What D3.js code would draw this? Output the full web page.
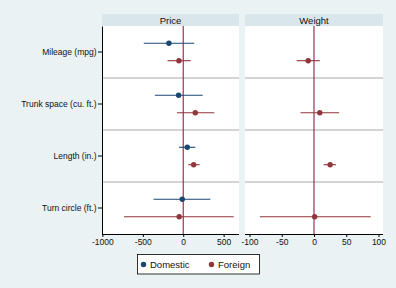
<!DOCTYPE html>
<html>
<head>
<meta charset="utf-8">
<script src="https://cdn.jsdelivr.net/npm/d3@7"></script>
<style>
  body { margin: 0; background: #eaf2f3; }
  svg { display: block; font-family: "Liberation Sans", Arial, sans-serif; }
</style>
</head>
<body>
<svg id="chart" width="396" height="288"></svg>
<script>
// data
var categories = ["Mileage (mpg)", "Trunk space (cu. ft.)", "Length (in.)", "Turn circle (ft.)"];
var groups = ["Domestic", "Foreign"];
var panelNames = ["Price", "Weight"];

var priceDomestic   = [-177, -57, 50, -12];
var priceDomesticLo = [-488, -351, -53, -367];
var priceDomesticHi = [136, 241, 149, 335];
var priceForeign    = [-53, 149, 129, -50];
var priceForeignLo  = [-194, -78, 62, -732];
var priceForeignHi  = [92, 385, 203, 625];

var weightDomestic   = [null, null, null, null];   // not shown in the weight panel
var weightDomesticLo = [null, null, null, null];
var weightDomesticHi = [null, null, null, null];
var weightForeign    = [-9, 9, 25, 1];
var weightForeignLo  = [-27, -21, 15, -84];
var weightForeignHi  = [9, 39, 34, 88];

var priceTicks = [-1000, -500, 0, 500];
var weightTicks = [-100, -50, 0, 50, 100];

var colors = {Domestic: "#1a476f", Foreign: "#90353b"};
var zeroColor = "#9b1b48";

function rows(est, lo, hi, group) {
  return categories.map(function(c, i) {
    return {cat: c, group: group, b: est[i], lo: lo[i], hi: hi[i]};
  }).filter(function(d) { return d.b != null; });
}

var panels = [
  { name: panelNames[0], domain: [-1005, 690], ticks: priceTicks, x0: 102, x1: 239,
    data: rows(priceDomestic, priceDomesticLo, priceDomesticHi, "Domestic")
      .concat(rows(priceForeign, priceForeignLo, priceForeignHi, "Foreign")) },
  { name: panelNames[1], domain: [-107, 107], ticks: weightTicks, x0: 245, x1: 383,
    data: rows(weightDomestic, weightDomesticLo, weightDomesticHi, "Domestic")
      .concat(rows(weightForeign, weightForeignLo, weightForeignHi, "Foreign")) }
];

var svg = d3.select("#chart");
var plotTop = 26, plotBottom = 234;

var y = d3.scaleBand().domain(categories).range([plotTop, plotBottom]);
var off = d3.scalePoint().domain(groups).range([-8.7, 8.7]);

panels.forEach(function(p, pi) {
  var x = d3.scaleLinear().domain(p.domain).range([p.x0, p.x1]);
  var g = svg.append("g");

  // strip header
  g.append("rect").attr("x", p.x0).attr("y", 14).attr("width", p.x1 - p.x0).attr("height", 12)
    .attr("fill", "#d9e6eb");
  g.append("text").attr("x", (p.x0 + p.x1) / 2).attr("y", 23.5)
    .attr("text-anchor", "middle").attr("font-size", 9.5).attr("fill", "#111")
    .text(p.name);

  // plot region
  g.append("rect").attr("x", p.x0).attr("y", plotTop).attr("width", p.x1 - p.x0).attr("height", plotBottom - plotTop)
    .attr("fill", "#fff");

  // separators between categories
  g.selectAll(".sep").data(categories.slice(1)).enter().append("line")
    .attr("x1", p.x0).attr("x2", p.x1)
    .attr("y1", function(d) { return y(d); }).attr("y2", function(d) { return y(d); })
    .attr("stroke", "#c6c6c6").attr("stroke-width", 1.5);

  // zero line
  g.append("line").attr("x1", x(0)).attr("x2", x(0)).attr("y1", plotTop).attr("y2", plotBottom)
    .attr("stroke", zeroColor).attr("stroke-width", 1.1);

  // x axis
  var xa = g.append("g").attr("transform", "translate(0," + plotBottom + ")")
    .call(d3.axisBottom(x).tickValues(p.ticks).tickFormat(function(d) { return String(d); })
      .tickSize(3).tickPadding(2).tickSizeOuter(0));
  xa.select(".domain").attr("stroke", "#000").attr("d", "M" + p.x0 + ",0.5H" + p.x1);
  xa.selectAll("text").attr("font-size", 8.5).attr("fill", "#111").attr("font-family", null);

  // y axis only on the first panel
  if (pi === 0) {
    var ya = g.append("g").attr("transform", "translate(" + p.x0 + ",0)")
      .call(d3.axisLeft(y).tickSize(4).tickPadding(1.5).tickSizeOuter(0));
    ya.select(".domain").attr("stroke", "#000");
    ya.selectAll("text").attr("font-size", 8.5).attr("fill", "#111").attr("font-family", null);
  }

  // CIs and points
  var cy = function(d) { return y(d.cat) + y.bandwidth() / 2 + off(d.group); };
  g.selectAll(".ci").data(p.data).enter().append("line")
    .attr("x1", function(d) { return x(d.lo); }).attr("x2", function(d) { return x(d.hi); })
    .attr("y1", cy).attr("y2", cy)
    .attr("stroke", function(d) { return colors[d.group]; }).attr("stroke-width", 1.1);
  g.selectAll(".pt").data(p.data).enter().append("circle")
    .attr("cx", function(d) { return x(d.b); }).attr("cy", cy).attr("r", 2.7)
    .attr("fill", function(d) { return colors[d.group]; });
});

// legend
var lg = svg.append("g");
lg.append("rect").attr("x", 137.5).attr("y", 254.5).attr("width", 122).attr("height", 19.5)
  .attr("fill", "#fff").attr("stroke", "#000").attr("stroke-width", 0.8);
var lx = d3.scalePoint().domain(groups).range([143.5, 211.5]);
groups.forEach(function(gname) {
  lg.append("circle").attr("cx", lx(gname)).attr("cy", 264.5).attr("r", 2.7).attr("fill", colors[gname]);
  lg.append("text").attr("x", lx(gname) + 6.5).attr("y", 268).attr("font-size", 9.5).attr("fill", "#111")
    .text(gname);
});
</script>
</body>
</html>
